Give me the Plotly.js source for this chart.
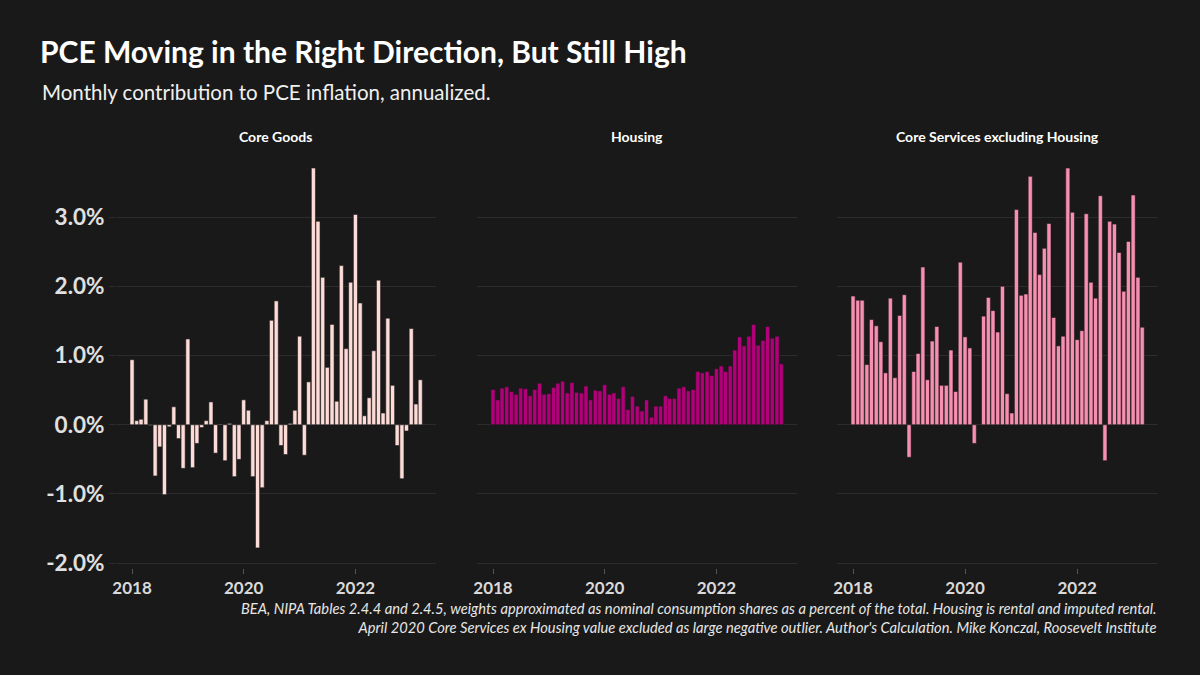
<!DOCTYPE html>
<html>
<head>
<meta charset="utf-8">
<script src="https://cdn.plot.ly/plotly-3.0.1.min.js"></script>
<style>
  html, body { margin: 0; padding: 0; background: #191919; }
  #chart { width: 1200px; height: 675px; }
</style>
</head>
<body>
<div id="chart"></div>
<script>
// Monthly contribution to PCE inflation, annualized (%), Jan 2018 – Mar 2023
const startYear = 2018;
const nMonths = 63;
const months = [];
for (let i = 0; i < nMonths; i++) {
  const y = startYear + Math.floor(i / 12);
  const m = (i % 12) + 1;
  months.push(y + "-" + (m < 10 ? "0" + m : m) + "-01");
}

const panelTitles = ["Core Goods", "Housing", "Core Services excluding Housing"];

const coreGoods = [
  0.94, 0.06, 0.08, 0.37, -0.01, -0.74, -0.32, -1.01, -0.03, 0.26, -0.20, -0.63,
  1.24, -0.62, -0.27, -0.04, 0.06, 0.33, -0.41, 0.01, -0.52, 0.02, -0.75, -0.50,
  0.36, 0.21, -0.75, -1.78, -0.91, 0.06, 1.51, 1.79, -0.30, -0.43, 0.02, 0.21,
  1.28, -0.44, 0.62, 3.71, 2.94, 2.13, 0.83, 1.45, 0.34, 2.30, 1.10, 2.06,
  3.04, 1.76, 0.13, 0.39, 1.07, 2.09, 0.17, 1.54, 0.57, -0.30, -0.78, -0.09,
  1.39, 0.30, 0.65
];

const housing = [
  0.51, 0.36, 0.53, 0.55, 0.48, 0.44, 0.53, 0.52, 0.42, 0.51, 0.60, 0.44,
  0.45, 0.54, 0.60, 0.63, 0.46, 0.61, 0.47, 0.46, 0.56, 0.36, 0.50, 0.49,
  0.58, 0.44, 0.46, 0.38, 0.55, 0.22, 0.41, 0.27, 0.20, 0.36, 0.11, 0.27,
  0.27, 0.42, 0.38, 0.38, 0.53, 0.55, 0.49, 0.51, 0.77, 0.75, 0.77, 0.71,
  0.81, 0.85, 0.77, 0.85, 1.08, 1.27, 1.14, 1.28, 1.45, 1.15, 1.22, 1.42,
  1.25, 1.28, 0.88
];

// April 2020 excluded (null)
const coreServicesExHousing = [
  1.86, 1.80, 1.80, 0.87, 1.52, 1.43, 1.20, 0.75, 1.83, 0.68, 1.58, 1.88,
  -0.47, 0.77, 1.03, 2.28, 0.65, 1.21, 1.42, 0.57, 0.57, 1.08, 0.48, 2.35,
  1.27, 1.11, -0.27, null, 1.57, 1.84, 1.65, 1.34, 2.00, 0.45, 0.17, 3.11,
  1.87, 1.89, 3.59, 2.78, 2.17, 2.55, 2.91, 1.55, 1.14, 1.28, 3.71, 3.07,
  1.23, 1.36, 3.05, 2.06, 1.83, 3.31, -0.52, 2.94, 2.90, 2.49, 1.93, 2.65,
  3.32, 2.13, 1.41
];

const yTickVals = [-2, -1, 0, 1, 2, 3];
const yTickText = ["-2.0%", "-1.0%", "0.0%", "1.0%", "2.0%", "3.0%"];
const xTickVals = ["2018-01-01", "2020-01-01", "2022-01-01"];
const xTickText = ["2018", "2020", "2022"];

const colors = ["#fddcd8", "#b3007a", "#f78fb1"];
const FONT = "Lato, 'Open Sans', sans-serif";
const BG = "#191919";
const GRID = "#2c2c2c";
const barWidth = 27 * 86400000;

const series = [coreGoods, housing, coreServicesExHousing];
const traces = series.map((vals, i) => ({
  type: "bar",
  x: months,
  y: vals,
  xaxis: i === 0 ? "x" : "x" + (i + 1),
  yaxis: i === 0 ? "y" : "y" + (i + 1),
  width: barWidth,
  marker: { color: colors[i], line: { color: "#1a1a1a", width: 0.6 } },
  hoverinfo: "x+y",
  showlegend: false
}));

const domains = [[0, 0.3071], [0.3464, 0.6536], [0.6919, 1]];
const xRange = ["2017-09-18", "2023-06-12"];
const yRange = [-2.07, 3.855];

const layout = {
  width: 1200,
  height: 675,
  paper_bgcolor: BG,
  plot_bgcolor: BG,
  margin: { l: 116, r: 42, t: 158, b: 107 },
  font: { family: FONT, color: "#e6e6e6" },
  title: {
    text: "PCE Moving in the Right Direction, But Still High",
    x: 40 / 1200, xref: "container", xanchor: "left",
    y: 1 - 52 / 675, yref: "container", yanchor: "middle",
    font: { family: FONT, size: 30, color: "#ffffff", weight: 700 }
  },
  bargap: 0.1,
  annotations: [
    {
      text: "Monthly contribution to PCE inflation, annualized.",
      xref: "paper", yref: "paper",
      x: (40 - 116) / 1042, y: (568 - 92) / 410,
      xanchor: "left", yanchor: "middle", showarrow: false,
      font: { family: FONT, size: 20.5, color: "#f0f0f0" }
    },
    {
      text: "<i>BEA, NIPA Tables 2.4.4 and 2.4.5, weights approximated as nominal consumption shares as a percent of the total. Housing is rental and imputed rental.<br>April 2020 Core Services ex Housing value excluded as large negative outlier. Author's Calculation. Mike Konczal, Roosevelt Institute</i>",
      xref: "paper", yref: "paper",
      x: 1, y: (568 - 617) / 410,
      xanchor: "right", yanchor: "middle", align: "right", showarrow: false,
      font: { family: FONT, size: 14.7, color: "#e6e6e6" }
    }
  ]
};

domains.forEach((d, i) => {
  const sfx = i === 0 ? "" : String(i + 1);
  layout["xaxis" + sfx] = {
    domain: d,
    type: "date",
    range: xRange,
    anchor: "y" + sfx,
    showgrid: false,
    zeroline: false,
    showline: false,
    tickmode: "array",
    tickvals: xTickVals,
    ticktext: xTickText,
    ticks: "outside",
    ticklen: 5,
    tickcolor: "#555555",
    tickfont: { family: FONT, size: 17, color: "#d9d9d9", weight: 700 },
    fixedrange: true
  };
  layout["yaxis" + sfx] = {
    domain: [0, 1],
    range: yRange,
    anchor: "x" + sfx,
    tickmode: "array",
    tickvals: yTickVals,
    ticktext: yTickText,
    showticklabels: i === 0,
    ticks: i === 0 ? "outside" : "",
    ticklen: 6,
    tickcolor: GRID,
    showgrid: true,
    gridcolor: GRID,
    gridwidth: 1,
    zeroline: false,
    showline: false,
    tickfont: { family: FONT, size: 22.5, color: "#e0e0e0", weight: 700 },
    fixedrange: true
  };
  layout.annotations.push({
    text: panelTitles[i],
    xref: "x" + sfx + " domain", yref: "paper",
    x: 0.5, y: (568 - 137) / 410,
    xanchor: "center", yanchor: "middle", showarrow: false,
    font: { family: FONT, size: 14, color: "#ffffff", weight: 700 }
  });
});

Plotly.newPlot("chart", traces, layout, { displayModeBar: false, staticPlot: true });
</script>
</body>
</html>
